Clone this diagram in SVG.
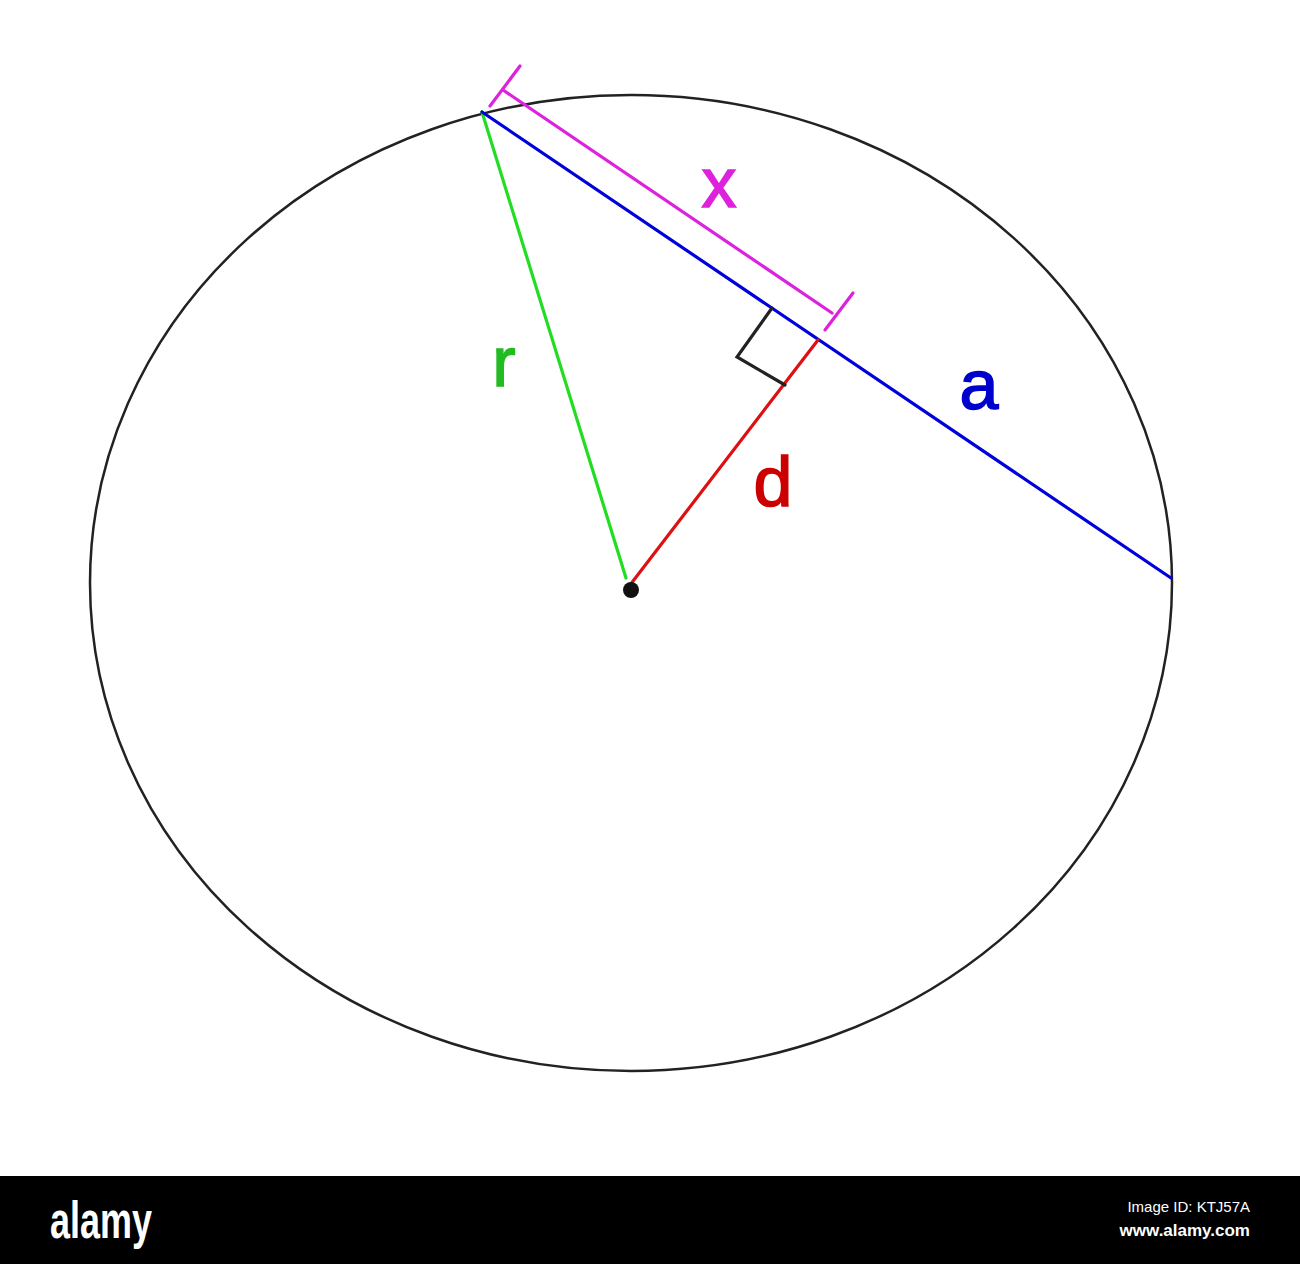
<svg xmlns="http://www.w3.org/2000/svg" width="1300" height="1264" viewBox="0 0 1300 1264">
<style>
.lbl{font-family:"Liberation Sans",Arial,sans-serif;font-size:70px;text-anchor:middle;stroke-width:1.5}
.ln{fill:none;stroke-width:3.2;stroke-linecap:round}
</style>
<rect width="1300" height="1264" fill="#fff"/>
<g id="circle">
<ellipse cx="631" cy="583" rx="541" ry="488" fill="none" stroke="#222" stroke-width="2.5"/>
</g>
<g id="connectors">
<line id="r" class="ln" x1="482" y1="112" x2="626" y2="578" stroke="#22dd22"/>
<line id="a" class="ln" x1="482" y1="112" x2="1171" y2="578" stroke="#0000dd"/>
<line id="d" class="ln" x1="818" y1="340" x2="630" y2="585" stroke="#dd1111"/>
<g stroke="#dd22dd" class="ln" fill="none">
<line x1="503" y1="90" x2="832" y2="313"/>
<line x1="490" y1="106" x2="520" y2="66"/>
<line x1="825" y1="330" x2="853" y2="293"/>
</g>
<polyline class="ln" stroke="#222" stroke-width="2" points="772,308 737,357 785,385"/>
</g>
<g id="center"><circle cx="631" cy="590" r="8" fill="#111"/></g>
<g id="labels">
<text class="lbl" x="719" y="207" fill="#dd22dd" stroke="#dd22dd">x</text>
<text class="lbl" x="504" y="386" fill="#22bb22" stroke="#22bb22">r</text>
<text class="lbl" x="979" y="409" fill="#0000cc" stroke="#0000cc">a</text>
<text class="lbl" x="773" y="506" fill="#cc0000" stroke="#cc0000">d</text>
</g>
<g id="footer">
<rect x="0" y="1176" width="1300" height="88" fill="#000"/>
<text x="50" y="1238" fill="#fff" font-family="Liberation Sans Narrow,Liberation Sans,sans-serif" font-weight="bold" font-size="52" textLength="102" lengthAdjust="spacingAndGlyphs">alamy</text>
<text x="1250" y="1212" fill="#fff" font-family="Liberation Sans,sans-serif" font-size="15" text-anchor="end">Image ID: KTJ57A</text>
<text x="1250" y="1236" fill="#fff" font-family="Liberation Sans,sans-serif" font-weight="bold" font-size="17" text-anchor="end">www.alamy.com</text>
</g>
</svg>
